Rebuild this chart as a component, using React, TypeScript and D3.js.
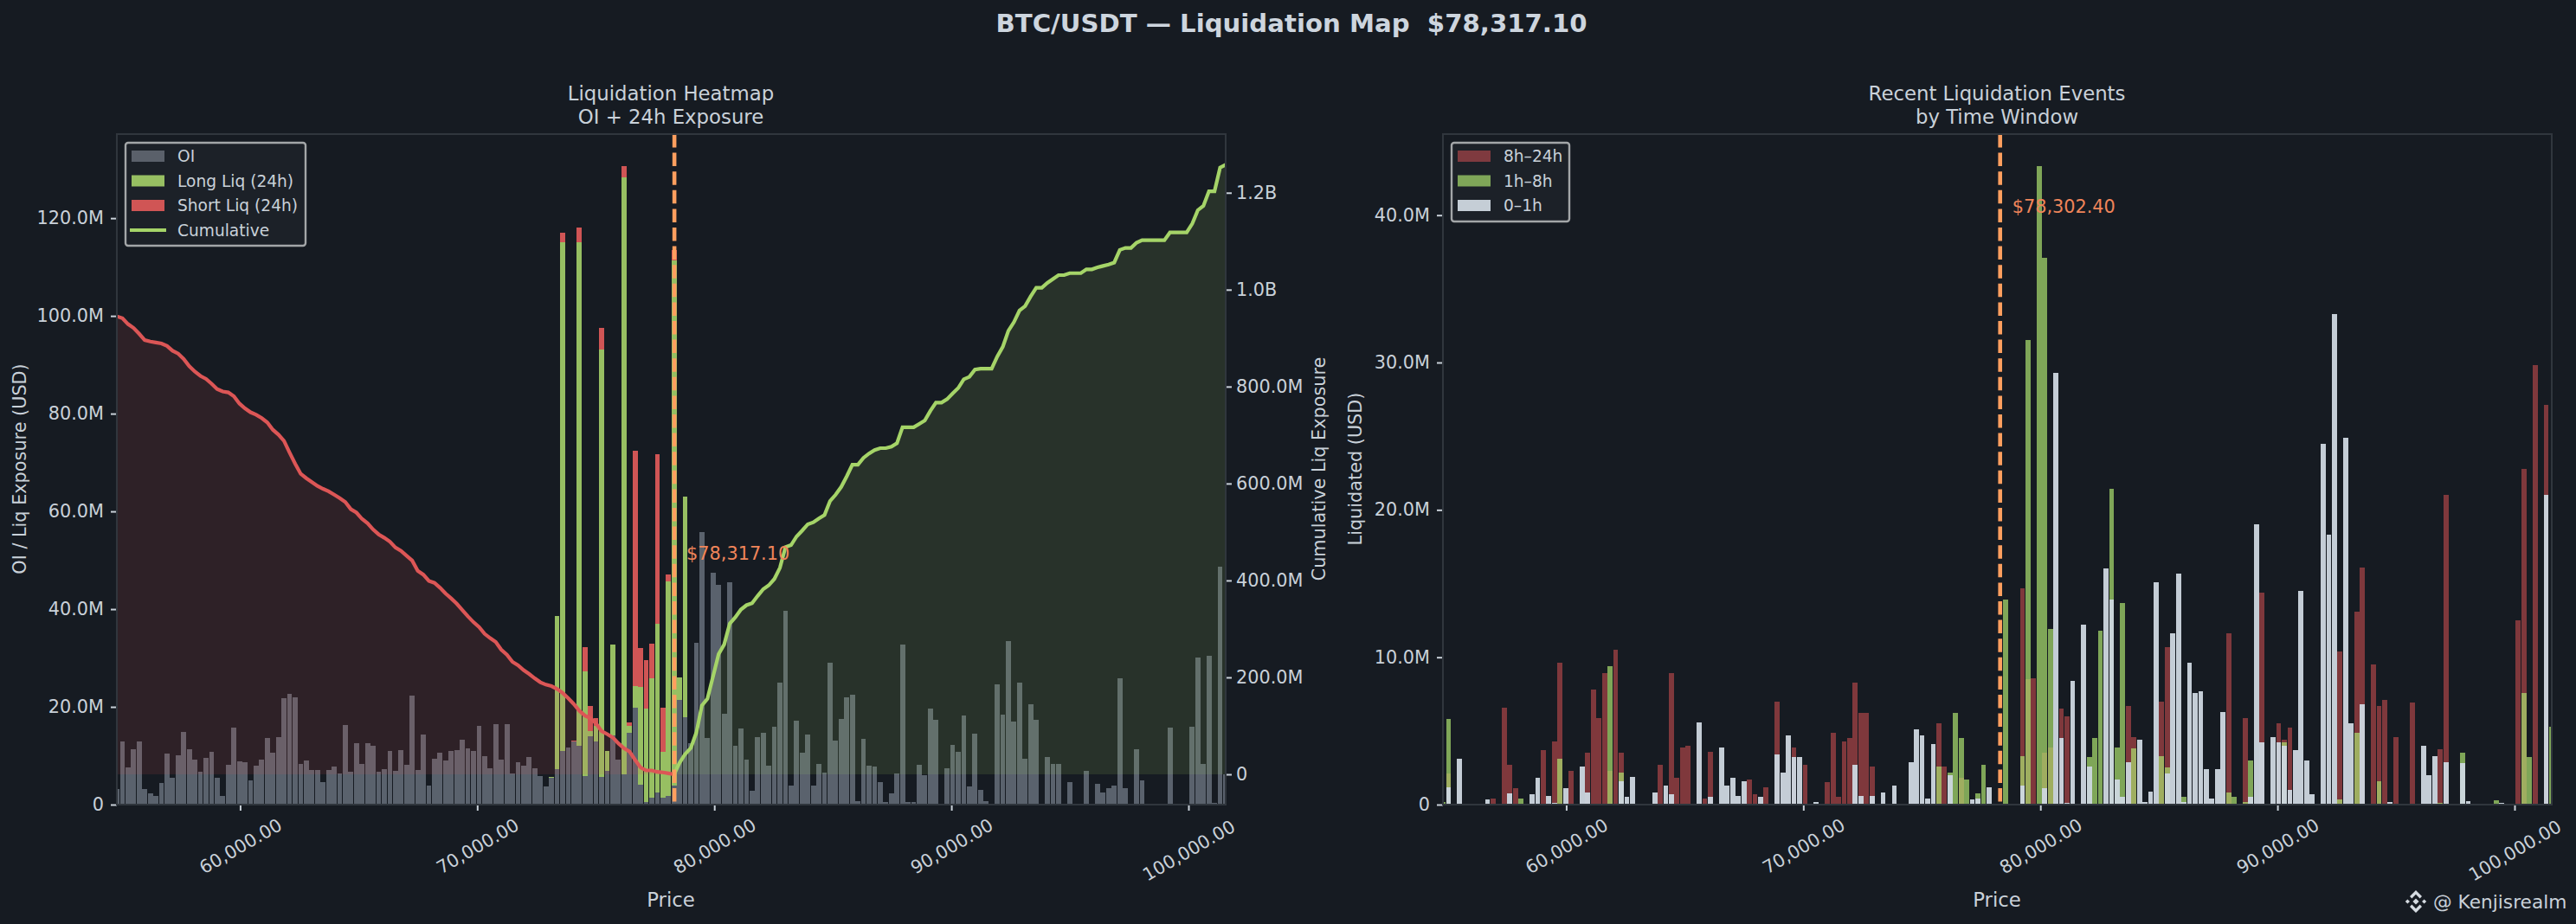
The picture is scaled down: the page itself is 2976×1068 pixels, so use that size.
import React, { useRef, useEffect } from "react";
import * as d3 from "d3";

// price range shown on both panels, 200 bins across it
const priceMin = 54800;
const priceMax = 101570;
const binCount = 200;
const currentPrice = 78317.1;
const recentPrice = 78302.4;

// left panel, millions of USD per bin
const oiValues = [
  3.2, 12.9, 7.6, 11.3, 13.0, 3.2, 2.3, 1.8, 4.4, 10.4,
  5.5, 10.1, 14.9, 11.3, 9.2, 6.7, 9.6, 10.8, 5.5, 1.8,
  8.1, 15.8, 8.8, 8.7, 5.0, 8.0, 9.2, 13.6, 10.6, 13.8,
  21.8, 22.7, 21.9, 8.3, 9.0, 7.1, 7.1, 4.6, 7.1, 7.8,
  6.4, 16.3, 6.7, 12.6, 8.3, 12.6, 12.0, 6.7, 7.3, 11.0,
  6.9, 11.2, 8.1, 22.3, 7.1, 14.3, 3.9, 9.4, 10.6, 9.0,
  11.0, 11.2, 13.3, 11.5, 11.0, 16.1, 9.9, 7.4, 16.5, 9.2,
  16.5, 6.4, 8.7, 8.0, 9.7, 7.4, 5.8, 3.7, 5.5, 7.3,
  11.0, 11.6, 13.0, 12.0, 5.8, 14.0, 12.9, 5.7, 6.9, 14.1,
  9.2, 6.2, 14.7, 19.8, 4.0, 0.6, 1.4, 2.5, 1.4, 1.8,
  3.9, 21.4, 17.9, 12.5, 33.1, 55.8, 13.6, 47.4, 45.0, 18.6,
  45.5, 12.0, 15.6, 9.2, 2.9, 13.8, 14.7, 7.9, 16.0, 25.0,
  39.6, 3.9, 17.2, 10.6, 14.3, 3.9, 8.3, 6.5, 29.0, 13.1,
  17.5, 21.9, 22.5, 0.7, 13.5, 8.0, 7.8, 4.6, 0.5, 2.3,
  6.4, 32.7, 0.5, 0.5, 8.1, 6.0, 19.6, 17.3, 0, 7.4,
  12.2, 10.8, 18.2, 3.7, 14.5, 3.0, 0.7, 0, 24.6, 18.4,
  33.5, 17.0, 25.0, 9.4, 20.5, 17.3, 0, 9.7, 8.3, 8.3,
  0, 4.6, 0, 0, 6.9, 0, 4.2, 2.5, 3.4, 3.9,
  25.8, 3.4, 0, 11.3, 5.0, 0, 0, 0, 0, 15.8,
  0, 0, 0, 15.9, 30.1, 8.3, 30.4, 0.4, 48.7, 6.2,
];

const longLiq = [
  0, 0, 0, 0, 0, 0, 0, 0, 0, 0, 0, 0, 0, 0, 0, 0, 0, 0, 0, 0,
  0, 0, 0, 0, 0, 0, 0, 0, 0, 0, 0, 0, 0, 0, 0, 0, 0, 0, 0, 0,
  0, 0, 0, 0, 0, 0, 0, 0, 0, 0, 0, 0, 0, 0, 0, 0, 0, 0, 0, 0,
  0, 0, 0, 0, 0, 0, 0, 0, 0, 0, 0, 0, 0, 0, 0, 0, 0, 0, 0.1, 31.3,
  104, 0, 0, 103, 21.4, 1, 3.2, 87.4, 4.1, 18.7,
  0, 122.1, 1.4, 4.5, 20.1, 19.1, 24.4, 34.5, 9.4, 43.9,
  107.5, 4.6, 45.1, 0, 0, 0, 0, 0, 0, 0,
];

const shortLiq = [
  0, 0, 0, 0, 0, 0, 0, 0, 0, 0, 0, 0, 0, 0, 0, 0, 0, 0, 0, 0,
  0, 0, 0, 0, 0, 0, 0, 0, 0, 0, 0, 0, 0, 0, 0, 0, 0, 0, 0, 0,
  0, 0, 0, 0, 0, 0, 0, 0, 0, 0, 0, 0, 0, 0, 0, 0, 0, 0, 0, 0,
  0, 0, 0, 0, 0, 0, 0, 0, 0, 0, 0, 0, 0, 0, 0, 0, 0, 0, 0, 0,
  2, 0, 0.1, 3.1, 5, 5.2, 1.6, 4.4, 0, 0,
  0, 2.4, 0.8, 48.1, 7.9, 9.9, 7.1, 34.7, 9, 1.4,
  2, 0, 0, 0, 0, 0, 0, 0, 0, 0,
];

// cumulative exposure, millions, bins 0..100 (below price) and 100..199 (above)
const cumShort = [
  945, 941, 929, 921, 909, 896, 893, 891, 889, 884,
  874, 868, 857, 842, 831, 822, 816, 806, 795, 790,
  788, 780, 765, 755, 747, 742, 735, 726, 711, 701,
  688, 664, 641, 620, 611, 603, 595, 589, 584, 577,
  570, 562, 547, 540, 527, 518, 505, 495, 488, 480,
  468, 461, 451, 441, 420, 412, 399, 395, 385, 373,
  363, 352, 339, 326, 314, 304, 290, 281, 273, 257,
  247, 232, 225, 215, 207, 198, 190, 185, 182, 176,
  168, 157, 145, 131, 121, 116, 105, 89, 83, 76,
  64, 54, 47, 30, 14, 8, 8, 5, 4, 2,
  0,
];

const cumLong = [
  0, 24, 42, 54, 86, 142, 156, 202, 248, 268,
  311, 324, 340, 349, 353, 368, 382, 390, 403, 426,
  469, 473, 491, 503, 516, 520, 528, 535, 564, 577,
  593, 615, 639, 639, 653, 662, 669, 673, 673, 676,
  683, 716, 716, 716, 723, 730, 750, 767, 767, 774,
  786, 797, 815, 820, 835, 837, 837, 837, 862, 882,
  915, 933, 957, 966, 986, 1004, 1004, 1014, 1022, 1030,
  1030, 1034, 1034, 1034, 1042, 1042, 1046, 1049, 1052, 1056,
  1082, 1086, 1086, 1097, 1102, 1102, 1102, 1102, 1102, 1118,
  1118, 1118, 1118, 1136, 1164, 1173, 1203, 1203, 1252, 1258,
];

// right panel, millions of USD per bin
const recent8h24h = [
  0, 2.1, 0, 0, 0, 0, 0, 0, 0, 0.4,
  0, 6.6, 2.7, 1.1, 0, 0, 0, 0, 3.7, 0,
  4.3, 9.6, 0, 2.3, 0, 0, 3.5, 7.8, 5.9, 8.9,
  2.3, 10.5, 3.5, 0, 0, 0, 0, 0, 0, 2.7,
  0, 8.9, 1.8, 3.9, 4.0, 0, 0, 0.4, 3.6, 0,
  0, 0, 0, 0, 0, 1.7, 0.7, 0, 1.2, 0,
  7.0, 0, 0, 3.9, 0, 2.7, 0, 0, 0, 1.5,
  4.9, 0.5, 4.3, 4.5, 8.3, 6.2, 6.2, 2.6, 0, 0,
  0, 0, 0, 0, 0, 0, 0, 0, 0, 5.5,
  2.6, 0, 0, 1.8, 0, 0, 0, 0, 0, 0,
  0, 0, 0, 0, 14.7, 8.5, 8.6, 0, 3.5, 3.9,
  0, 6.5, 6.0, 0, 0, 0, 0, 0, 0, 0,
  0, 0, 0, 6.7, 4.6, 0, 0, 0, 0, 7.0,
  10.7, 0, 0, 0, 0, 0, 0, 0, 0, 0,
  0, 11.6, 0, 0, 5.9, 0, 0, 14.4, 0, 0,
  5.5, 4.4, 5.2, 0, 0, 0, 0, 0, 0, 0,
  0, 10.4, 0, 0, 13.1, 16.1, 0, 9.5, 6.7, 7.1,
  0, 4.6, 0, 0, 6.9, 0, 0, 0, 0, 3.75,
  21.0, 0, 0, 0, 0, 0, 0, 0, 0, 0,
  0, 0, 0, 12.5, 22.8, 0, 29.8, 0, 27.1, 0,
];

const recent1h8h = [
  0.2, 5.8, 0, 0, 0, 0, 0, 0, 0, 0,
  0, 0, 0, 0, 0.4, 0, 0, 0, 0, 0,
  0, 3.1, 0, 0, 0, 0, 0, 0, 0, 0,
  9.4, 0, 2.2, 0, 0, 0, 0, 0, 0, 0,
  0, 0, 0, 0, 0, 0, 0, 0, 0, 0,
  0, 0, 0, 0, 0, 0, 0, 0, 0, 0,
  0, 0, 0, 0, 0, 0, 0, 0, 0, 0,
  0, 0, 0, 0, 0, 0, 0, 0, 0, 0,
  0, 0, 0, 0, 0, 0, 0, 0, 0, 2.6,
  0, 2.2, 6.2, 4.5, 1.7, 0, 0.75, 2.7, 0, 0,
  0, 13.9, 0, 0, 3.3, 31.5, 0, 43.3, 37.1, 11.9,
  0, 0, 0, 0, 0, 0, 3.2, 4.5, 11.8, 0,
  21.4, 3.9, 13.7, 0, 3.8, 0, 0, 0, 0, 3.3,
  2.5, 0, 0, 0.5, 0, 0, 0, 0, 0, 0,
  0, 0.8, 0.5, 0, 0.2, 3.0, 0, 0, 0, 0,
  0, 4.2, 0, 0, 0, 0, 0, 0, 0, 0,
  0, 0.35, 0, 0, 4.9, 0, 0, 0, 1.6, 0,
  0, 0, 0, 0, 0, 0, 0, 0, 0, 0.1,
  0, 0, 0, 3.5, 0, 0, 0, 0, 0, 0.3,
  0, 0, 0, 0, 7.6, 3.2, 0, 0, 0, 5.3,
];

const recent0h1h = [
  0, 1.2, 0, 3.1, 0, 0, 0, 0, 0.35, 0,
  0, 0, 0.75, 0, 0, 0, 0.7, 1.8, 0, 0.6,
  0.1, 0, 1.1, 0, 0, 2.6, 0.8, 0, 0, 0,
  0, 0, 1.6, 0.5, 1.9, 0, 0, 0, 0.8, 0,
  1.3, 0.7, 0, 0, 0, 0, 5.6, 0, 0.5, 0,
  3.9, 1.3, 1.8, 0.6, 1.6, 0, 0, 0.5, 0, 0,
  3.4, 2.2, 4.7, 3.2, 3.2, 0, 0, 0.15, 0, 0,
  0, 0, 0, 0, 2.7, 0.6, 0, 0.6, 0, 0.8,
  0, 1.3, 0, 0, 2.9, 5.1, 4.7, 0.4, 4.1, 0,
  0, 2.0, 0, 0, 0, 0.35, 0.4, 0, 1.2, 0,
  0, 0, 0, 0, 1.3, 0, 0, 0, 1.1, 0,
  29.3, 4.5, 0.1, 8.4, 0, 12.2, 2.6, 0, 0, 16.0,
  13.9, 1.7, 0.5, 2.9, 0, 4.4, 0.2, 0.9, 15.1, 0,
  2.1, 11.6, 15.7, 0.15, 9.6, 7.6, 7.7, 2.4, 0.4, 2.4,
  6.3, 0, 0, 0, 0, 0.5, 19.0, 4.2, 0, 4.6,
  4.2, 4.0, 1.0, 3.7, 14.5, 3.0, 0.7, 0, 24.5, 18.3,
  33.3, 0, 24.9, 5.5, 0, 6.8, 0, 0, 0, 0,
  0.15, 0, 0, 0, 0, 0, 4.0, 2.0, 3.3, 0,
  2.9, 0, 0, 2.8, 0.25, 0, 0, 0, 0, 0,
  0.1, 0, 0, 0, 0, 0, 0, 0, 21.0, 0,
];

const priceTicks = [60000, 70000, 80000, 90000, 100000];
const leftTicks = [0, 20, 40, 60, 80, 100, 120];
const cumTicks = [0, 200, 400, 600, 800, 1000, 1200];
const rightTicks = [0, 10, 20, 30, 40];

const BG = "#161b22";
const TEXT = "#c9d1d9";
const SPINE = "#30363d";
const FONT = "'DejaVu Sans'";
const BAR_W = 5.8;

const moneyM = (v: number) => (v === 0 ? "0" : `${v.toFixed(1)}M`);
const moneyB = (v: number) => (v === 0 ? "0" : v >= 1000 ? `${(v / 1000).toFixed(1)}B` : `${v.toFixed(1)}M`);
const binPrice = (i: number) => priceMin + (i * (priceMax - priceMin)) / (binCount - 1);

type Svg = d3.Selection<SVGSVGElement, unknown, null, undefined>;

const styleAxis = (g: any) => {
  g.select(".domain").remove();
  g.selectAll(".tick line").attr("stroke", TEXT).attr("stroke-width", 2);
  g.selectAll(".tick text").attr("fill", TEXT).attr("font-size", 20.8).attr("font-family", FONT);
};

const drawFrame = (svg: Svg, l: number, r: number, t: number, b: number, id: string) => {
  const x = d3.scaleLinear().domain([priceMin, priceMax]).range([l, r]);
  svg
    .append("defs")
    .append("clipPath")
    .attr("id", id)
    .append("rect")
    .attr("x", l)
    .attr("y", t)
    .attr("width", r - l)
    .attr("height", b - t);
  const xAxis = svg
    .append("g")
    .attr("transform", `translate(0,${b})`)
    .call(d3.axisBottom(x).tickValues(priceTicks).tickSize(7).tickFormat((d) => d3.format(",.2f")(d as number)));
  styleAxis(xAxis);
  xAxis
    .selectAll<SVGTextElement, number>(".tick text")
    .attr("y", 0)
    .attr("dy", "0.35em")
    .attr("text-anchor", "middle")
    .attr("transform", function () {
      const len = (this.textContent || "").length;
      return `translate(0,${48 + (len - 9) * 5}) rotate(-30)`;
    });
  return x;
};

const drawSpines = (svg: Svg, l: number, r: number, t: number, b: number) => {
  svg
    .append("rect")
    .attr("x", l)
    .attr("y", t)
    .attr("width", r - l)
    .attr("height", b - t)
    .attr("fill", "none")
    .attr("stroke", SPINE)
    .attr("stroke-width", 2);
};

const label = (svg: Svg, txt: string, x: number, y: number, size = 20.8, rotate = false, fill = TEXT) => {
  svg
    .append("text")
    .text(txt)
    .attr("transform", `translate(${x},${y})${rotate ? " rotate(-90)" : ""}`)
    .attr("text-anchor", "middle")
    .attr("font-family", FONT)
    .attr("font-size", size)
    .attr("fill", fill);
};

const drawLegend = (
  svg: Svg,
  x: number,
  y: number,
  w: number,
  h: number,
  items: { name: string; color: string; line?: boolean }[],
) => {
  const g = svg.append("g");
  g.append("rect")
    .attr("x", x)
    .attr("y", y)
    .attr("width", w)
    .attr("height", h)
    .attr("rx", 3)
    .attr("fill", "#1c2128")
    .attr("stroke", "#a3a6a8")
    .attr("stroke-width", 2.4);
  items.forEach((it, i) => {
    const cy = y + 15.5 + i * 28.5;
    if (it.line) {
      g.append("line")
        .attr("x1", x + 5)
        .attr("x2", x + 47)
        .attr("y1", cy)
        .attr("y2", cy)
        .attr("stroke", it.color)
        .attr("stroke-width", 4.2);
    } else {
      g.append("rect").attr("x", x + 7).attr("y", cy - 6.5).attr("width", 38).attr("height", 13).attr("fill", it.color);
    }
    g.append("text")
      .text(it.name)
      .attr("x", x + 60)
      .attr("y", cy + 6.5)
      .attr("font-family", FONT)
      .attr("font-size", 18.6)
      .attr("fill", TEXT);
  });
};

const drawPriceLine = (svg: Svg, px: number, t: number, b: number, txt: string, ty: number) => {
  svg
    .append("line")
    .attr("x1", px)
    .attr("x2", px)
    .attr("y1", t)
    .attr("y2", b)
    .attr("stroke", "#ff9f5f")
    .attr("stroke-width", 4.6)
    .attr("stroke-dasharray", "15.5,6.1");
  svg
    .append("text")
    .text(txt)
    .attr("x", px + 14)
    .attr("y", ty)
    .attr("font-family", FONT)
    .attr("font-size", 20.8)
    .attr("fill", "#f0855a");
};

const LiquidationMap: React.FC = () => {
  const svgRef = useRef<SVGSVGElement | null>(null);

  useEffect(() => {
    if (!svgRef.current) return;
    const svg = d3.select(svgRef.current) as unknown as Svg;
    svg.selectAll("*").remove();

    svg.append("rect").attr("width", 2976).attr("height", 1068).attr("fill", BG);

    // title
    svg
      .append("text")
      .text("BTC/USDT — Liquidation Map  $78,317.10")
      .attr("x", 1492)
      .attr("y", 37)
      .attr("text-anchor", "middle")
      .attr("xml:space", "preserve")
      .style("white-space", "pre")
      .attr("font-family", FONT)
      .attr("font-weight", "bold")
      .attr("font-size", 29.2)
      .attr("fill", "#cdd5de");

    // ---- left panel
    const L = { l: 135, r: 1416, t: 155, b: 930 };
    const x1 = drawFrame(svg, L.l, L.r, L.t, L.b, "clip-left");
    const y1 = d3.scaleLinear().domain([0, 137.2]).range([L.b, L.t]);
    const yCum = d3.scaleLinear().domain([-62.5, 1321]).range([L.b, L.t]);

    styleAxis(
      svg
        .append("g")
        .attr("transform", `translate(${L.l},0)`)
        .call(d3.axisLeft(y1).tickValues(leftTicks).tickSize(7).tickPadding(8).tickFormat((d) => moneyM(d as number))),
    );
    styleAxis(
      svg
        .append("g")
        .attr("transform", `translate(${L.r},0)`)
        .call(d3.axisRight(yCum).tickValues(cumTicks).tickSize(7).tickPadding(5).tickFormat((d) => moneyB(d as number))),
    );

    const plot1 = svg.append("g").attr("clip-path", "url(#clip-left)");
    const bins = d3.range(binCount);
    const stacked = (base: (i: number) => number, val: (i: number) => number, color: string) => {
      plot1
        .append("g")
        .attr("shape-rendering", "crispEdges")
        .selectAll("rect")
        .data(bins.filter((i) => val(i) > 0))
        .join("rect")
        .attr("x", (i) => x1(binPrice(i)) - BAR_W / 2)
        .attr("width", BAR_W)
        .attr("y", (i) => y1(base(i) + val(i)))
        .attr("height", (i) => y1(base(i)) - y1(base(i) + val(i)))
        .attr("fill", color);
    };
    const oi = (i: number) => oiValues[i] || 0;
    const lg = (i: number) => longLiq[i] || 0;
    const sh = (i: number) => shortLiq[i] || 0;
    stacked(() => 0, oi, "#5a626d");
    stacked(oi, lg, "#97bf62");
    stacked((i) => oi(i) + lg(i), sh, "#d05555");

    const area = d3
      .area<[number, number]>()
      .x((d) => x1(binPrice(d[0])))
      .y0(yCum(0))
      .y1((d) => yCum(d[1]));
    const line = d3
      .line<[number, number]>()
      .x((d) => x1(binPrice(d[0])))
      .y((d) => yCum(d[1]));
    const shortPts = cumShort.map((v, i) => [i, v] as [number, number]);
    const longPts = cumLong.map((v, i) => [i + 100, v] as [number, number]);
    plot1.append("path").attr("d", area(shortPts)).attr("fill", "#e05555").attr("fill-opacity", 0.12);
    plot1.append("path").attr("d", area(longPts)).attr("fill", "#a8d66a").attr("fill-opacity", 0.125);
    plot1.append("path").attr("d", line(shortPts)).attr("fill", "none").attr("stroke", "#dc5656").attr("stroke-width", 4.2);
    plot1.append("path").attr("d", line(longPts)).attr("fill", "none").attr("stroke", "#a5d468").attr("stroke-width", 4.2);

    drawPriceLine(svg, x1(currentPrice), L.t, L.b, "$78,317.10", 647);
    drawSpines(svg, L.l, L.r, L.t, L.b);
    drawLegend(svg, 145, 165, 208, 119, [
      { name: "OI", color: "#5a606a" },
      { name: "Long Liq (24h)", color: "#97bf62" },
      { name: "Short Liq (24h)", color: "#d05555" },
      { name: "Cumulative", color: "#a5d468", line: true },
    ]);
    label(svg, "Liquidation Heatmap", 775, 116, 22.8);
    label(svg, "OI + 24h Exposure", 775, 143, 22.8);
    label(svg, "Price", 775, 1048, 22.8);
    label(svg, "OI / Liq Exposure (USD)", 30, 542, 20.8, true);
    label(svg, "Cumulative Liq Exposure", 1531, 542, 20.8, true);

    // ---- right panel
    const R = { l: 1667, r: 2948, t: 155, b: 930 };
    const x2 = drawFrame(svg, R.l, R.r, R.t, R.b, "clip-right");
    const y2 = d3.scaleLinear().domain([0, 45.5]).range([R.b, R.t]);
    styleAxis(
      svg
        .append("g")
        .attr("transform", `translate(${R.l},0)`)
        .call(d3.axisLeft(y2).tickValues(rightTicks).tickSize(7).tickPadding(8).tickFormat((d) => moneyM(d as number))),
    );

    const plot2 = svg.append("g").attr("clip-path", "url(#clip-right)");
    const overlay = (vals: number[], color: string, opacity: number) => {
      plot2
        .append("g")
        .attr("shape-rendering", "crispEdges")
        .selectAll("rect")
        .data(bins.filter((i) => vals[i] > 0))
        .join("rect")
        .attr("x", (i) => x2(binPrice(i)) - BAR_W / 2)
        .attr("width", BAR_W)
        .attr("y", (i) => y2(vals[i]))
        .attr("height", (i) => y2(0) - y2(vals[i]))
        .attr("fill", color)
        .attr("fill-opacity", opacity);
    };
    overlay(recent8h24h, "#e05555", 0.52);
    overlay(recent1h8h, "#ace16f", 0.7);
    overlay(recent0h1h, "#ced7e0", 0.95);

    drawPriceLine(svg, x2(recentPrice), R.t, R.b, "$78,302.40", 246);
    drawSpines(svg, R.l, R.r, R.t, R.b);
    drawLegend(svg, 1677, 165, 136, 91, [
      { name: "8h–24h", color: "#7f3a3f" },
      { name: "1h–8h", color: "#7fa658" },
      { name: "0–1h", color: "#c5ced6" },
    ]);
    label(svg, "Recent Liquidation Events", 2307, 116, 22.8);
    label(svg, "by Time Window", 2307, 143, 22.8);
    label(svg, "Price", 2307, 1048, 22.8);
    label(svg, "Liquidated (USD)", 1573, 542, 20.8, true);

    // watermark
    const mark = svg.append("g").attr("transform", "translate(2791,1042)").attr("fill", "#d5dbe1");
    [
      "M0,-3.6L3.6,0L0,3.6L-3.6,0Z",
      "M-9.6,-2.6L-7,0L-9.6,2.6L-12.2,0Z",
      "M9.6,-2.6L12.2,0L9.6,2.6L7,0Z",
      "M0,-13L7,-6L4.6,-3.6L0,-8.2L-4.6,-3.6L-7,-6Z",
      "M0,13L7,6L4.6,3.6L0,8.2L-4.6,3.6L-7,6Z",
    ].forEach((d) => mark.append("path").attr("d", d));
    svg
      .append("text")
      .text("@ Kenjisrealm")
      .attr("x", 2811)
      .attr("y", 1050)
      .attr("font-family", FONT)
      .attr("font-size", 21.7)
      .attr("fill", "#c9d1d9");
  }, []);

  return (
    <svg
      ref={svgRef}
      width={2976}
      height={1068}
      style={{ position: "absolute", left: 0, top: 0, display: "block" }}
    ></svg>
  );
};

export default function App() {
  return <LiquidationMap />;
}
